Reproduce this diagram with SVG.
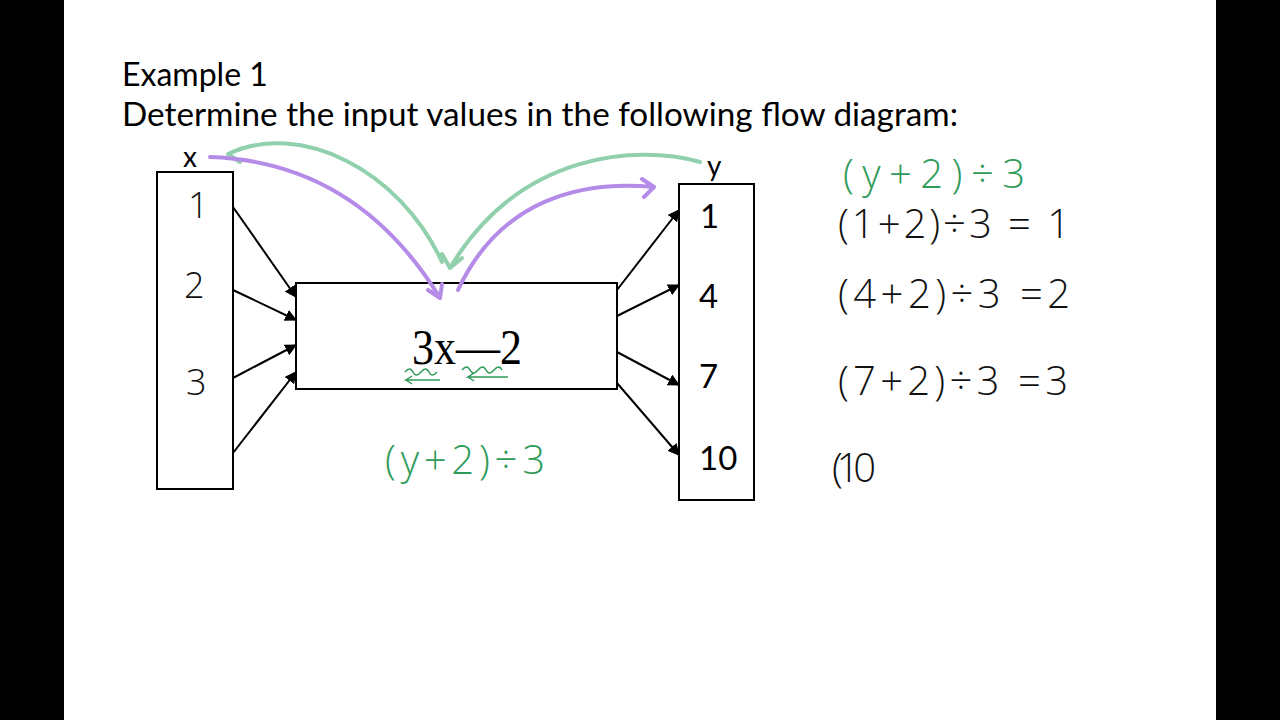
<svg xmlns="http://www.w3.org/2000/svg" width="1280" height="720" viewBox="0 0 1280 720">
<defs>
<style>
.box{fill:#fff;stroke:#000;stroke-width:2}
.t{font-family:Lato,"Liberation Sans",sans-serif;fill:#000}
.hw{font-family:"Open Sans","Liberation Sans",sans-serif;font-weight:300;fill:#111}
.g{fill:#2e9b5a}
.ar{stroke:#000;stroke-width:2;fill:none;marker-end:url(#ah)}
.gc{stroke:#90d0ac;stroke-width:4;fill:none;stroke-linecap:round}
.pc{stroke:#b58be8;stroke-width:4;fill:none;stroke-linecap:round}
</style>
<marker id="ah" viewBox="0 0 10 10" refX="9" refY="5" markerWidth="12" markerHeight="12" orient="auto-start-reverse" markerUnits="userSpaceOnUse"><path d="M0,0L10,5L0,10z" fill="#000"/></marker>
</defs>
<rect width="1280" height="720" fill="#fff"/>
<rect x="0" y="0" width="64" height="720" fill="#000"/>
<rect x="1216" y="0" width="64" height="720" fill="#000"/>
<text class="t" x="122" y="86" font-size="32">Example 1</text>
<text class="t" x="122" y="126" font-size="32" textLength="836" lengthAdjust="spacingAndGlyphs">Determine the input values in the following flow diagram:</text>
<g id="xbox"><text class="t" x="183" y="167" font-size="28">x</text><rect class="box" x="157" y="172" width="76" height="317"/>
<text class="hw" x="188" y="218" font-size="36">1</text><text class="hw" x="184" y="298" font-size="36">2</text><text class="hw" x="186" y="395" font-size="36">3</text></g>
<g id="func"><rect class="box" x="296" y="283" width="321" height="106"/>
<text x="467" y="364" font-size="50" text-anchor="middle" font-family="'Liberation Serif',serif" textLength="110" lengthAdjust="spacingAndGlyphs">3x—2</text>
<path d="M405,372q5,-6 8,0t8,0t8,0t8,0M462,370q5,-6 8,0t8,0t8,0t8,0t8,0M440,380h-34l6,-4M406,380l6,4M508,377h-40l6,-4M468,377l6,4" stroke="#2e9b5a" stroke-width="1.5" fill="none"/>
<text class="hw g" x="385" y="474" font-size="40" textLength="160">(y+2)÷3</text></g>
<g id="ybox"><text class="t" x="707" y="176" font-size="28">y</text><rect class="box" x="679" y="184" width="75" height="316"/>
<text class="t" x="700" y="228" font-size="33">1</text><text class="t" x="699" y="308" font-size="33">4</text><text class="t" x="699" y="388" font-size="33">7</text><text class="t" x="699" y="470" font-size="33">10</text></g>
<g id="connectors">
<path class="ar" d="M233,207L296,297"/><path class="ar" d="M233,290L296,320"/><path class="ar" d="M233,378L296,345"/><path class="ar" d="M233,453L296,372"/>
<path class="ar" d="M617,290L679,210"/><path class="ar" d="M617,316L679,285"/><path class="ar" d="M617,352L679,385"/><path class="ar" d="M617,383L679,455"/>
<path class="gc" d="M700,162C640,145 520,150 450,268M450,268l-8,-14M450,268l12,-10"/>
<path class="gc" d="M442,262C400,170 300,120 228,154M228,154l14,-6M228,154l12,8"/>
<path class="pc" d="M210,157C300,160 380,200 440,298M440,298l-12,-8M440,298l2,-14"/>
<path class="pc" d="M458,290C500,200 580,180 654,187M654,187l-12,-8M654,187l-10,10"/>
</g>
<g id="work">
<text class="hw g" x="843" y="188" font-size="40" textLength="182">(y+2)÷3</text>
<text class="hw" x="838" y="238" font-size="40" textLength="232">(1+2)÷3 = 1</text>
<text class="hw" x="838" y="308" font-size="40" textLength="232">(4+2)÷3 =2</text>
<text class="hw" x="838" y="395" font-size="40" textLength="230">(7+2)÷3 =3</text>
<text class="hw" x="832" y="482" font-size="40" textLength="44">(10</text>
</g>
</svg>
